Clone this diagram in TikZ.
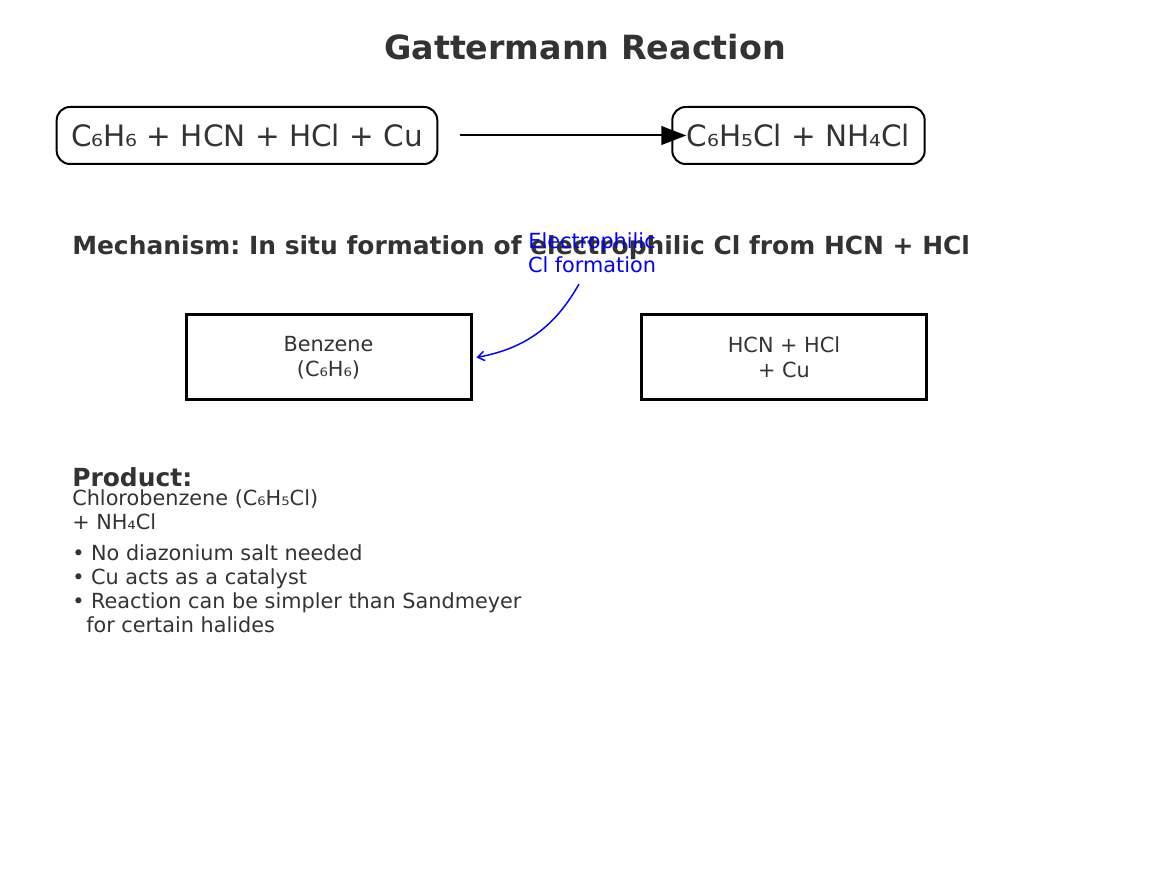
\documentclass[tikz,border=0pt]{standalone}
\usepackage{fontspec}
\setmainfont{DejaVu Sans}
\usetikzlibrary{arrows.meta}
\definecolor{ink}{HTML}{333333}
\frenchspacing
\tikzset{
  eqbox/.style = {
    rectangle, draw=black, line width=1.5pt, rounded corners=10pt,
    minimum height=42.75pt, inner xsep=10.9pt, inner ysep=0pt,
    font=\fontsize{22.1}{26}\selectfont, text=ink
  },
  stepbox/.style = {
    rectangle, draw=black, line width=2.25pt,
    minimum width=213.75pt, minimum height=63.75pt,
    align=center, font=\fontsize{15.6}{18.5}\selectfont, text=ink
  },
  heading/.style = {
    anchor=base west, inner sep=0pt, text=ink,
    font=\bfseries\fontsize{18.7}{22}\selectfont
  },
  note/.style = {
    anchor=base west, inner sep=0pt, text=ink,
    font=\fontsize{15.6}{18}\selectfont
  },
  react/.style = { draw=black, line width=1.5pt, -{Triangle[length=18.75pt, width=14pt]} },
  hint/.style  = { draw=blue, line width=1.1pt, -{Straight Barb[length=5pt, width=7pt]} }
}

\begin{document}
\begin{tikzpicture}[x=0.75pt, y=-0.75pt]
    \useasboundingbox (0,0) rectangle (1170,887);

    % ------------------------------------------------------------- Title
    \node [anchor=base, inner sep=0pt, text=ink, font=\bfseries\fontsize{25}{30}\selectfont]
      (title) at (585, 60) {Gattermann Reaction};

    % ---------------------------------------------------------- Equation
    \node [eqbox] (lhs) at (247, 135.5) {C₆H₆ + HCN + HCl + Cu};
    \node [eqbox] (rhs) at (798.5, 135.5) {C₆H₅Cl + NH₄Cl};
    \draw [react] ([xshift=16pt]lhs.east) -- ([xshift=11.25pt]rhs.west);

    % --------------------------------------------------------- Mechanism
    \node [heading] (mech) at (72, 255)
      {Mechanism: In situ formation of electrophilic Cl from HCN + HCl};

    \node [stepbox] (benzene) at (328.5, 357.5) {Benzene\\(C₆H₆)};
    \node [stepbox] (reagents) at (784, 357.5) {HCN + HCl\\+ Cu};

    \node [align=center, text=blue, inner sep=0pt, font=\fontsize{15.6}{18}\selectfont]
      (elabel) at (592, 253) {Electrophilic\\Cl formation};
    \coordinate (etail) at (579, 284);
    \draw [hint] (etail) to [bend left=25] ([xshift=3pt]benzene.east);

    % ----------------------------------------------------------- Product
    \node [heading] (prod) at (72, 486) {Product:};
    \node [note] (prod1) at (72, 505) {Chlorobenzene (C₆H₅Cl)};
    \node [note] (prod2) at (72, 529) {+ NH₄Cl};

    \node [note] (pt1) at (72, 560) {• No diazonium salt needed};
    \node [note] (pt2) at (72, 584) {• Cu acts as a catalyst};
    \node [note] (pt3) at (72, 608) {• Reaction can be simpler than Sandmeyer};
    \node [note] (pt4) at (86, 632) {for certain halides};

\end{tikzpicture}
\end{document}
